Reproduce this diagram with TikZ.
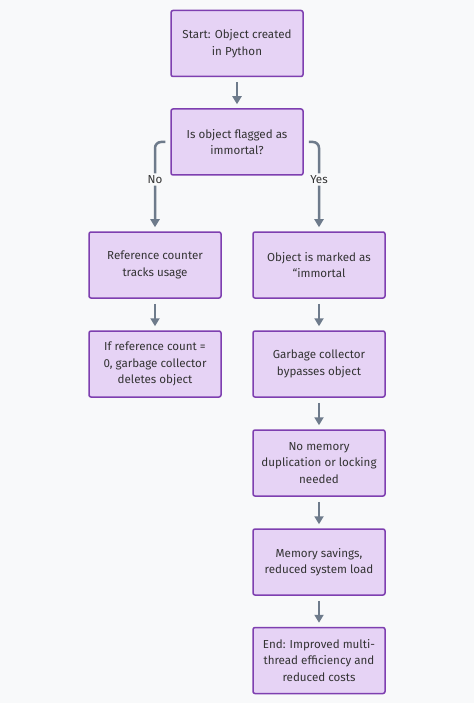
\documentclass[tikz,border=0pt]{standalone}
\usepackage{fontspec}
\setmainfont{Fira Sans}
\usetikzlibrary{arrows.meta}
\definecolor{bgcol}{HTML}{F8F9FA}
\definecolor{boxfill}{HTML}{E6D3F5}
\definecolor{boxline}{HTML}{7E3FB0}
\definecolor{arrowcol}{HTML}{6E7B8B}
\definecolor{textcol}{HTML}{333333}
\tikzset{
  flowbox/.style={draw=boxline, fill=boxfill, line width=1.5pt, rounded corners=2pt,
    minimum width=132pt, minimum height=66pt, inner sep=0pt, align=center,
    text=textcol, font=\fontsize{11.6}{16.5}\selectfont},
  flowarrow/.style={draw=arrowcol, line width=2.5pt, -{Triangle[length=8pt,width=9pt]},
    shorten >=4pt, shorten <=5pt},
  branchlabel/.style={fill=bgcol, inner sep=2pt, text=textcol, font=\fontsize{11.6}{13}\selectfont}
}
\begin{document}
\begin{tikzpicture}[x=1pt, y=-1pt]
    \fill[bgcol] (0,0) rectangle (474,703);
    \useasboundingbox (0,0) rectangle (474,703);

    % top of the flow
    \node[flowbox] (start) at (237,43.5) {Start: Object created\\in Python};
    \node[flowbox] (decide) at (237,142) {Is object flagged as\\immortal?};

    % left branch
    \node[flowbox] (refcount) at (155,265) {Reference counter\\tracks usage};
    \node[flowbox] (refzero) at (155,364) {If reference count =\\0, garbage collector\\deletes object};

    % right branch
    \node[flowbox] (marked) at (319,265) {Object is marked as\\``immortal};
    \node[flowbox] (gcskip) at (319,364) {Garbage collector\\bypasses object};
    \node[flowbox] (nodup) at (319,463) {No memory\\duplication or locking\\needed};
    \node[flowbox] (savings) at (319,562) {Memory savings,\\reduced system load};
    \node[flowbox] (finish) at (319,660.5) {End: Improved multi-\\thread efficiency and\\reduced costs};

    % connectors
    \draw[flowarrow] (start) -- (decide);
    \draw[flowarrow, rounded corners=6pt] (decide.west) -| node[branchlabel, pos=0.71] {No} (refcount.north);
    \draw[flowarrow, rounded corners=6pt] (decide.east) -| node[branchlabel, pos=0.71] {Yes} (marked.north);
    \draw[flowarrow] (refcount) -- (refzero);
    \draw[flowarrow] (marked) -- (gcskip);
    \draw[flowarrow] (gcskip) -- (nodup);
    \draw[flowarrow] (nodup) -- (savings);
    \draw[flowarrow] (savings) -- (finish);
\end{tikzpicture}
\end{document}
